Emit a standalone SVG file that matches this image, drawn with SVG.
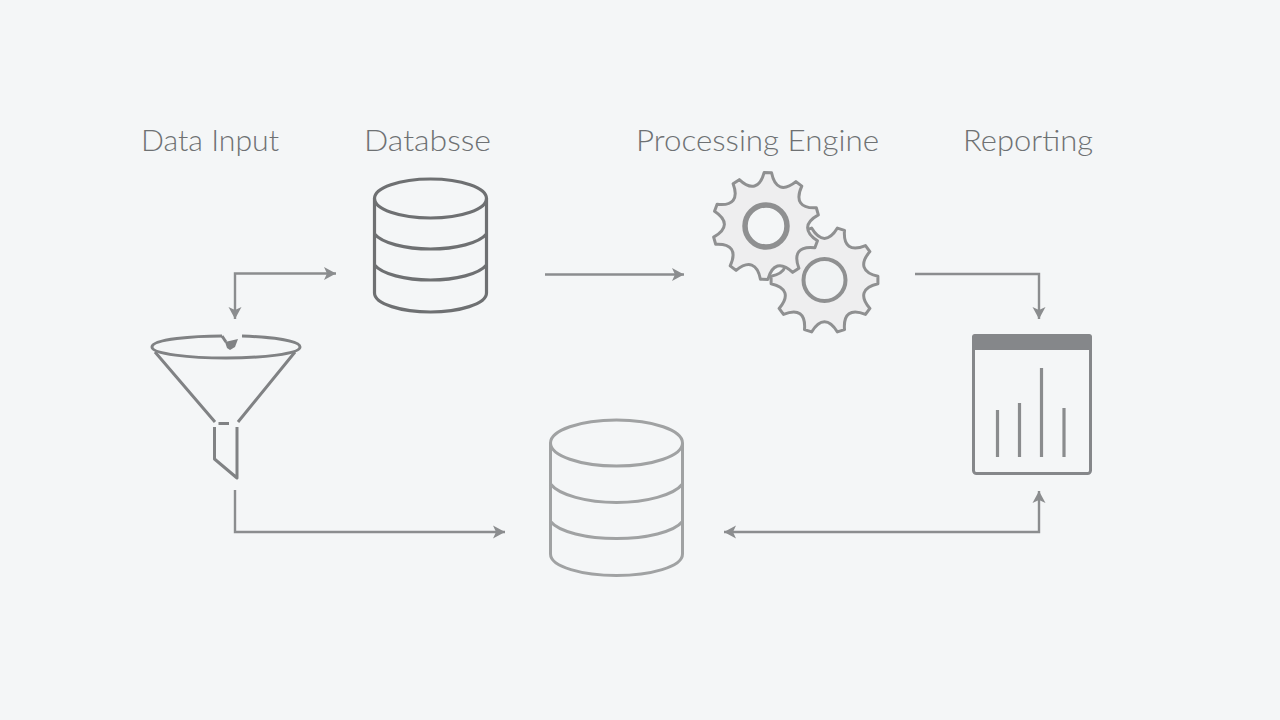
<svg xmlns="http://www.w3.org/2000/svg" width="1280" height="720" viewBox="0 0 1280 720">
<style>
.label{font-family:"Lato","Liberation Sans",sans-serif;font-size:29px;font-weight:300;fill:#6e7173}
.conn{fill:none;stroke:#8b8d8f;stroke-width:2.4;marker-end:url(#arrow)}
.both{marker-start:url(#arrow)}
.db1{fill:none;stroke:#6e7072;stroke-width:3.2}
.db2{fill:none;stroke:#a0a2a3;stroke-width:3}
.line{fill:none;stroke:#808284;stroke-width:3;stroke-linejoin:round}
.gear{fill:#eeeeef;stroke:#8f9091;stroke-width:3;stroke-linejoin:round}
.bar{stroke:#8a8c8e;stroke-width:3.2}
</style>
<defs>
<marker id="arrow" markerUnits="userSpaceOnUse" markerWidth="16" markerHeight="16" refX="13" refY="8" orient="auto-start-reverse">
<path d="M1,1.500L13,8L1,14.500L4,8Z" fill="#8b8d8f"/>
</marker>
<path id="gearShape" d="M53.4,-3.7L53.4,3.7C37.8,7.3 34.9,16.3 45.4,28.4L41,34.4C26.3,28.2 18.7,33.7 20,49.6L12.9,51.9C4.7,38.2 -4.7,38.2 -12.9,51.9L-20,49.6C-18.7,33.7 -26.3,28.2 -41,34.4L-45.4,28.4C-34.9,16.3 -37.8,7.3 -53.4,3.7L-53.4,-3.7C-37.8,-7.3 -34.9,-16.3 -45.4,-28.4L-41,-34.4C-26.3,-28.2 -18.7,-33.7 -20,-49.6L-12.9,-51.9C-4.7,-38.2 4.7,-38.2 12.9,-51.9L20,-49.6C18.7,-33.7 26.3,-28.2 41,-34.4L45.4,-28.4C34.9,-16.3 37.8,-7.3 53.4,-3.7Z"/>
</defs>
<rect width="1280" height="720" fill="#f4f6f7"/>
<g id="connectors">
<path class="conn both" d="M336,273.500H235V319"/>
<path class="conn" d="M545,274.500H684"/>
<path class="conn" d="M915,274H1039V319"/>
<path class="conn" d="M235,490V532H505"/>
<path class="conn both" d="M1039,491V532H724"/>
</g>
<g id="data-input">
<text class="label" x="141" y="151" textLength="138" lengthAdjust="spacingAndGlyphs">Data Input</text>
<path class="line" d="M222,336C195,336 152,339 152,347C152,354 190,358 226,358C262,358 300,354 300,347C300,340 268,337 242,336"/>
<path class="line" d="M222,336L226,342"/>
<path d="M225,342L238,339L235,347L230,350L227,348Z" fill="#808284"/>
<path class="line" d="M155,352L215,422M295,352L238,422M218.500,423.500H229"/>
<path class="line" d="M214.500,427V459L237,478V427"/>
</g>
<g id="database">
<text class="label" x="364" y="151" textLength="127" lengthAdjust="spacingAndGlyphs">Databsse</text>
<ellipse class="db1" cx="430.500" cy="198.500" rx="56" ry="19.500"/>
<path class="db1" d="M374.500,198.500V293C374.500,304 402,312 430.500,312C459,312 486.500,304 486.500,293V198.500"/>
<path class="db1" d="M374.500,234C382,243 405,249 430.500,249C456,249 479,243 486.500,234"/>
<path class="db1" d="M374.500,265C382,274 405,280 430.500,280C456,280 479,274 486.500,265"/>
</g>
<g id="processing-engine">
<text class="label" x="636" y="151" textLength="243" lengthAdjust="spacingAndGlyphs">Processing Engine</text>
<use href="#gearShape" class="gear" transform="translate(824.500,280)"/>
<circle cx="824.500" cy="280" r="21" fill="#f1f3f4" stroke="#8f9091" stroke-width="4"/>
<use href="#gearShape" class="gear" transform="translate(766,226) rotate(-16)"/>
<circle cx="766" cy="226" r="21" fill="#f4f6f7" stroke="#8f9091" stroke-width="5.500"/>
</g>
<g id="reporting">
<text class="label" x="963" y="151" textLength="130" lengthAdjust="spacingAndGlyphs">Reporting</text>
<rect x="973.500" y="335.500" width="117" height="138" rx="3" fill="none" stroke="#85878a" stroke-width="3"/>
<path d="M972,337a3,3 0 0 1 3,-3H1089a3,3 0 0 1 3,3V350H972Z" fill="#85878a"/>
<path class="bar" d="M997.500,410V457M1019.500,403V457M1041.500,368V457M1064,408V457"/>
</g>
<g id="storage">
<ellipse class="db2" cx="616.500" cy="443" rx="66" ry="23"/>
<path class="db2" d="M550.500,443V554C550.500,567 583,575.500 616.500,575.500C650,575.500 682.500,567 682.500,554V443"/>
<path class="db2" d="M550.500,484C559,495 587,502.500 616.500,502.500C646,502.500 674,495 682.500,484"/>
<path class="db2" d="M550.500,521.500C559,532 587,538.500 616.500,538.500C646,538.500 674,532 682.500,521.500"/>
</g>
</svg>
